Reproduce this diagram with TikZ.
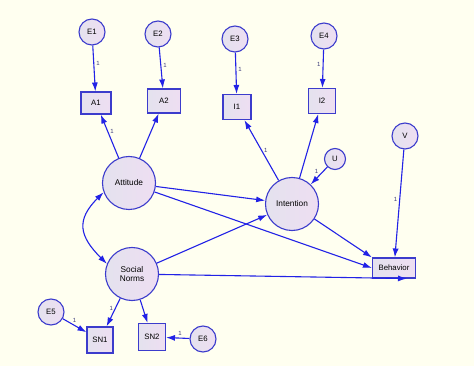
\documentclass[tikz,border=0pt]{standalone}
\usepackage{fontspec}
\setmainfont{Liberation Sans}
\usetikzlibrary{arrows.meta}
\definecolor{bgyellow}{HTML}{FFFFF0}
\definecolor{rimblue}{HTML}{3C3CCC}
\definecolor{pathblue}{HTML}{2222E6}
\definecolor{wtcolor}{HTML}{3A3A7A}
\definecolor{fillleft}{HTML}{E4E2EE}
\definecolor{fillright}{HTML}{EEDEF2}
\tikzset{
  latent/.style={circle,draw=rimblue,line width=1.1pt,left color=fillleft,right color=fillright,
    minimum size=53pt,inner sep=0pt,font=\fontsize{8.3}{8.8}\selectfont,align=center},
  err/.style={circle,draw=rimblue,line width=1.1pt,left color=fillleft,right color=fillright,
    minimum size=26pt,inner sep=0pt,font=\fontsize{7.8}{8}\selectfont},
  obs/.style={rectangle,draw=rimblue,line width=1.1pt,left color=fillleft,right color=fillright,
    minimum width=28pt,minimum height=24pt,inner sep=1pt,font=\fontsize{7.8}{8}\selectfont},
  path/.style={-{Latex[length=9pt,width=6pt]},pathblue,line width=1.1pt},
  both/.style={{Latex[length=9pt,width=6pt]}-{Latex[length=9pt,width=6pt]},pathblue,line width=1.1pt},
  wt/.style={text=wtcolor,font=\fontsize{6}{6.5}\selectfont,inner sep=1pt}
}
\begin{document}
\begin{tikzpicture}[x=1pt,y=1pt]
  \fill[bgyellow] (0,0) rectangle (474,-366);
  \useasboundingbox (0,0) rectangle (474,-366);
  \foreach \n/\x/\y in {E1/92/32,E2/158/34,E3/235/39,E4/324/36,V/405/136,E5/51/312,E6/203/339}{
    \node[err] (\n) at (\x,-\y) {\n};
  }
  \node[err,minimum size=21pt] (U) at (335,-159) {U};
  \foreach \n/\x/\y/\w/\h in {A1/96/103/30/22,A2/164/101/33/24,I1/237/107/28/25,I2/322/101/27/25,
                              SN1/100/340/26/26,SN2/152/337/27/27}{
    \node[obs,minimum width=\w pt,minimum height=\h pt] (\n) at (\x,-\y) {\n};
  }
  \node[obs,minimum width=43pt,minimum height=20pt] (Behavior) at (394,-268) {Behavior};
  \node[latent] (Attitude) at (129,-183) {Attitude};
  \node[latent] (Intention) at (292,-204) {Intention};
  \node[latent] (Norms) at (132,-274) {Social\\Norms};

  \draw[path] (E1) -- (A1) node[wt,pos=.4,right=1pt] {1};
  \draw[path] (E2) -- (A2) node[wt,pos=.43,right=1pt] {1};
  \draw[path] (E3) -- (I1) node[wt,pos=.42,right=1pt] {1};
  \draw[path] (E4) -- (I2) node[wt,pos=.4,left=1pt] {1};
  \draw[path] (Attitude) -- (A1) node[wt,pos=.6,right=1pt] {1};
  \draw[path] (Intention) -- (I1) node[wt,pos=.5,right=1pt] {1};
  \draw[path] (U) -- (Intention) node[wt,pos=.45,above left=0pt] {1};
  \draw[path] (V) -- (Behavior) node[wt,pos=.46,left=1pt] {1};
  \draw[path] (Norms) -- (SN1) node[wt,pos=.35,left=1pt] {1};
  \draw[path] (E5) -- (SN1) node[wt,pos=.5,above=1pt] {1};
  \draw[path] (E6) -- (SN2) node[wt,pos=.4,above=1pt] {1};
  \foreach \a/\b in {Attitude/A2,Intention/I2,Attitude/Intention,Norms/Intention,Norms/SN2}{
    \draw[path] (\a) -- (\b);
  }
  \draw[path] (Attitude) -- (Behavior.west);
  \draw[path] (Intention) -- (Behavior.north west);
  \draw[path] (Norms) -- ([xshift=13pt]Behavior.south);
  \draw[both] (Attitude.200) to[out=225,in=135,looseness=1.4] (Norms.158);
\end{tikzpicture}
\end{document}
